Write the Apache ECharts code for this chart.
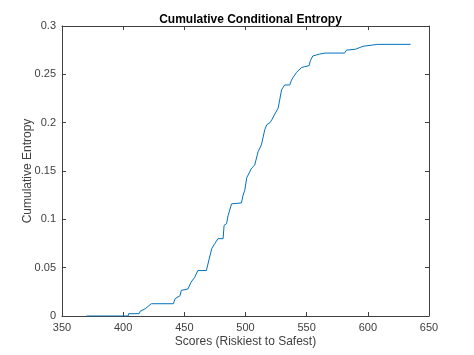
<!DOCTYPE html>
<html>
<head>
<meta charset="utf-8">
<script src="https://cdn.jsdelivr.net/npm/echarts@6/dist/echarts.min.js"></script>
<style>
html,body{margin:0;padding:0;background:#fff;}
#chart{width:474px;height:355px;}
</style>
</head>
<body>
<div id="chart"></div>
<script>
var scores = [370, 404, 404.5, 413, 414, 418, 423, 441, 442.5, 446.5, 447.5, 453, 455.5, 458.5, 461, 468,
  470.5, 472.5, 475, 477.5, 481.7, 482.5, 484.5, 485.8, 488.6, 489.9, 496.7, 498, 499.4, 501, 505,
  507.5, 510.3, 513, 515.8, 517.5, 520, 521.5, 524, 526.7, 529.5, 532, 536.2, 537.6, 539, 541.7,
  543, 545.8, 548.5, 552, 553, 555, 560.7, 565, 581, 582.5, 590, 596, 608, 635];
var entropy = [0, 0, 0.0024, 0.0024, 0.005, 0.0075, 0.0127, 0.0127, 0.018, 0.021, 0.0265, 0.028, 0.035, 0.040, 0.047, 0.047,
  0.060, 0.070, 0.075, 0.080, 0.080, 0.0938, 0.0955, 0.104, 0.116, 0.117, 0.117, 0.125, 0.130, 0.143, 0.153,
  0.156, 0.170, 0.177, 0.193, 0.198, 0.200, 0.203, 0.209, 0.215, 0.234, 0.239, 0.239, 0.244, 0.247, 0.252,
  0.254, 0.257, 0.258, 0.259, 0.264, 0.269, 0.271, 0.272, 0.272, 0.275, 0.276, 0.279, 0.281, 0.281];
var titleText = 'Cumulative Conditional Entropy';
var xName = 'Scores (Riskiest to Safest)';
var yName = 'Cumulative Entropy';

var pts = scores.map(function (s, i) { return [s, entropy[i]]; });
var axisColor = '#404040';
var font = 'Liberation Sans, Arial, sans-serif';

var chart = echarts.init(document.getElementById('chart'), null, {renderer: 'canvas'});
chart.setOption({
  animation: false,
  backgroundColor: '#fff',
  title: {
    text: titleText,
    left: 245.5, textAlign: 'center', top: 9,
    textStyle: {fontFamily: font, fontSize: 12, fontWeight: 'bold', color: '#000'}
  },
  grid: {left: 62, right: 45, top: 26, bottom: 39, containLabel: false},
  xAxis: [{
    type: 'value', min: 350, max: 650, interval: 50, position: 'bottom',
    name: xName, nameLocation: 'middle', nameGap: 20, nameMoveOverlap: false,
    nameTextStyle: {fontFamily: font, fontSize: 12, color: axisColor},
    axisLine: {onZero: false, lineStyle: {color: axisColor, width: 1}},
    axisTick: {inside: true, length: 4, lineStyle: {color: axisColor}},
    axisLabel: {fontFamily: font, fontSize: 11, color: axisColor, margin: 6},
    splitLine: {show: false}
  }, {
    type: 'value', min: 350, max: 650, interval: 50, position: 'top',
    axisLine: {onZero: false, lineStyle: {color: axisColor, width: 1}},
    axisTick: {inside: true, length: 4, lineStyle: {color: axisColor}},
    axisLabel: {show: false}, splitLine: {show: false}
  }],
  yAxis: [{
    type: 'value', min: 0, max: 0.3, interval: 0.05, position: 'left',
    name: yName, nameLocation: 'middle', nameGap: 28, nameMoveOverlap: false,
    nameTextStyle: {fontFamily: font, fontSize: 12, color: axisColor},
    axisLine: {show: true, onZero: false, lineStyle: {color: axisColor, width: 1}},
    axisTick: {show: true, inside: true, length: 4, lineStyle: {color: axisColor}},
    axisLabel: {fontFamily: font, fontSize: 11, color: axisColor, margin: 6},
    splitLine: {show: false}
  }, {
    type: 'value', min: 0, max: 0.3, interval: 0.05, position: 'right',
    axisLine: {show: true, onZero: false, lineStyle: {color: axisColor, width: 1}},
    axisTick: {show: true, inside: true, length: 4, lineStyle: {color: axisColor}},
    axisLabel: {show: false}, splitLine: {show: false}
  }],
  series: [{
    type: 'line', xAxisIndex: 0, yAxisIndex: 0,
    data: pts, showSymbol: false, symbol: 'none',
    lineStyle: {color: '#0072BD', width: 1}
  }]
});
</script>
</body>
</html>
